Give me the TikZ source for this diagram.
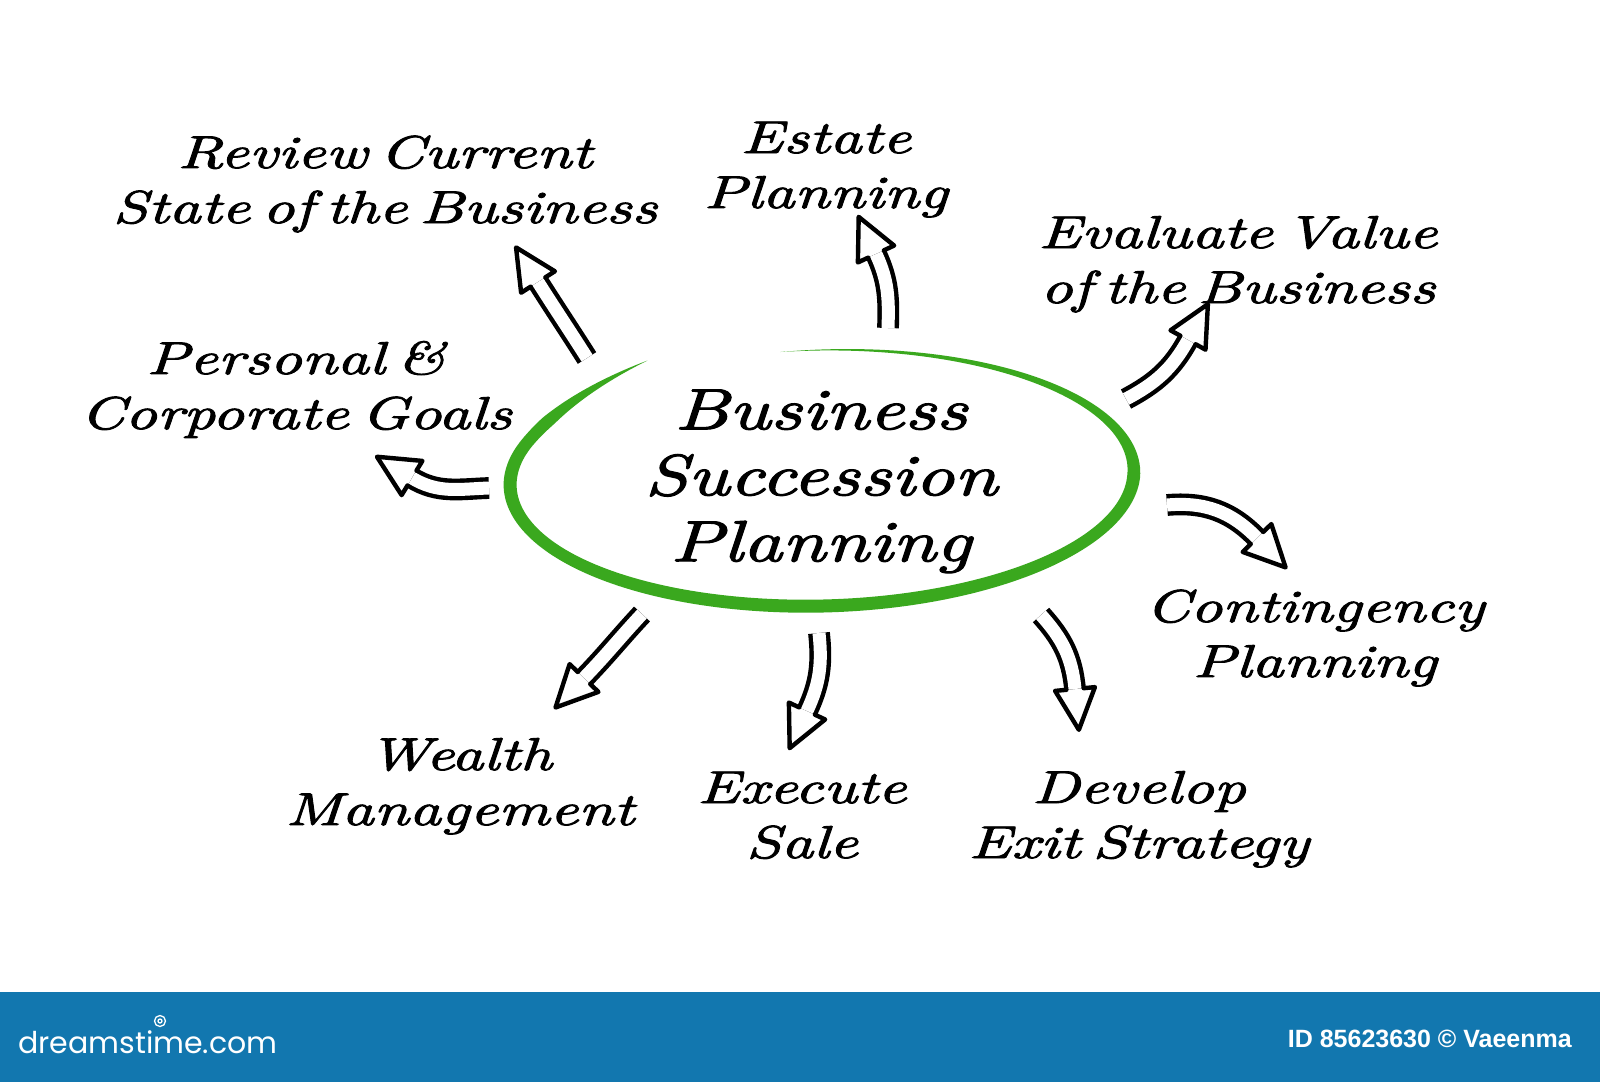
\documentclass[tikz,border=0pt]{standalone}
\usepackage{fontspec}
\usetikzlibrary{calc}
\newfontfamily\handfont{lmroman10-italic.otf}[FakeStretch=1.36,FakeBold=2,WordSpace=0.55]
\newfontfamily\ctrfont{lmroman10-italic.otf}[FakeStretch=1.33,FakeBold=2,WordSpace=0.55]
\newfontfamily\logofont{Poppins}
\newfontfamily\idfont{Liberation Sans}
\definecolor{eg}{RGB}{58,168,30}
\definecolor{barblue}{RGB}{18,119,175}
\newcommand\ahead[2]{%
  \begin{scope}[shift={(#1)},rotate=#2]
    \draw[headline] (0,8.7) -- (0,20) -- (41,0) -- (0,-20) -- (0,-8.7);
  \end{scope}}
\begin{document}
\begin{tikzpicture}[x=1pt,y=1pt,
  lbl/.style={align=center,inner sep=0pt,font=\handfont\fontsize{46}{55}\selectfont},
  ctr/.style={align=center,inner sep=0pt,font=\ctrfont\fontsize{58}{66}\selectfont},
  shaft/.style={draw=black,line width=4.4pt,double=white,double distance=13pt},
  headline/.style={draw=black,line width=4.4pt,line join=round,line cap=round},
  declare function={
    ew(\t)=6.5*min(1,(240-\t)/30)*min(1,(\t+97)/100);
    es(\t)=1+0.10*(max(0,(\t-200)/40))^2;
  }]
\useasboundingbox (0,0) rectangle (1600,-1082);
\fill[white] (0,0) rectangle (1600,-1082);

% green loop
\begin{scope}[rotate around={1.5:(822,-478)}]
\fill[eg] plot[domain=0:337,samples=240,smooth]
  ({822+es(240-\x)*(312+ew(240-\x))*cos(240-\x)},{-478-es(240-\x)*(128+ew(240-\x))*sin(240-\x)})
  -- plot[domain=0:337,samples=240,smooth]
  ({822+es(-97+\x)*(312-ew(-97+\x))*cos(-97+\x)},{-478-es(-97+\x)*(128-ew(-97+\x))*sin(-97+\x)})
  -- cycle;
\end{scope}

% labels
\node[ctr] (bsp) at (821,-482) {\strut Business\\\strut Succession\\\strut Planning};
\node[lbl] (review) at (385,-184.5) {\strut Review Current\\\strut State of the Business};
\node[lbl] (estate) at (826,-169.5) {\strut Estate\\\strut Planning};
\node[lbl] (evaluate) at (1238,-264.5) {\strut Evaluate Value\\\strut of the Business};
\node[lbl] (personal) at (296,-390.5) {\strut Personal \&\\\strut Corporate Goals};
\node[lbl] (contingency) at (1315,-638.5) {\strut Contingency\\\strut Planning};
\node[lbl] (wealth) at (460,-786.5) {\strut Wealth\\\strut Management};
\node[lbl] (execute) at (802,-819.5) {\strut Execute\\\strut Sale};
\node[lbl] (develop) at (1139,-819.5) {\strut Develop\\\strut Exit Strategy};

% arrow coordinates (tail t, head base b)
\coordinate (rv-t) at (587,-358);  \coordinate (rv-b) at (538,-282);
\coordinate (pe-t) at (489,-488);  \coordinate (pe-b) at (412,-478);
\coordinate (es-t) at (888,-328);  \coordinate (es-b) at (876,-254);
\coordinate (ev-t) at (1126,-399); \coordinate (ev-b) at (1188,-340);
\coordinate (co-t) at (1167,-505); \coordinate (co-b) at (1257,-538);
\coordinate (we-t) at (642,-614);  \coordinate (we-b) at (584,-678);
\coordinate (ex-t) at (819,-633);  \coordinate (ex-b) at (807,-711);
\coordinate (de-t) at (1041,-615); \coordinate (de-b) at (1075,-689);

\draw[shaft] (rv-t) to[out=122.4,in=302.4] (rv-b); \ahead{rv-b}{122.4}
\draw[shaft] (pe-t) to[out=182,in=328.8] (pe-b);   \ahead{pe-b}{148.8}
\draw[shaft] (es-t) to[out=88,in=295] (es-b);      \ahead{es-b}{115}
\draw[shaft] (ev-t) to[out=28,in=241] (ev-b);      \ahead{ev-b}{61}
\draw[shaft] (co-t) to[out=5,in=134.2] (co-b);     \ahead{co-b}{-45.8}
\draw[shaft] (we-t) to[out=227,in=46] (we-b);      \ahead{we-b}{226}
\draw[shaft] (ex-t) to[out=276,in=65] (ex-b);      \ahead{ex-b}{245}
\draw[shaft] (de-t) to[out=312,in=95.4] (de-b);    \ahead{de-b}{275.4}

% bottom bar
\fill[barblue] (0,-992) rectangle (1600,-1082);
\node[anchor=base west,inner sep=0pt,text=white,font=\logofont\fontsize{30}{30}\selectfont] (logo) at (18,-1053) {dreamstime.com};
\draw[white,line width=1.3pt] (160,-1021) circle (5.5);
\draw[white,line width=1.3pt] (160,-1021) circle (2);
\node[anchor=base east,inner sep=0pt,text=white,font=\idfont\bfseries\fontsize{25}{25}\selectfont] (credit) at (1572,-1047) {ID 85623630 © Vaeenma};
\end{tikzpicture}
\end{document}
